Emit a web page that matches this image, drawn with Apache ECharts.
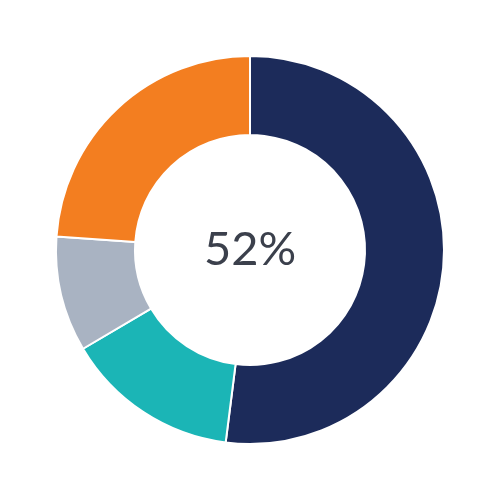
<!DOCTYPE html>
<html><head><meta charset="utf-8">
<script src="https://cdn.jsdelivr.net/npm/echarts@6/dist/echarts.min.js"></script>
<style>html,body{margin:0;padding:0;background:#fff}#c{width:500px;height:500px}</style>
</head><body><div id="c"></div>
<script>
const categories = ['A', 'B', 'C', 'D'];
const values = [52, 14.5, 9.6, 23.9];
const colors = ['#1c2b5a', '#1bb5b6', '#a9b3c2', '#f37e20'];
const centerLabel = '52%';

const chart = echarts.init(document.getElementById('c'), null, {renderer: 'canvas'});
chart.setOption({
  animation: false,
  backgroundColor: '#ffffff',
  title: {
    text: centerLabel,
    left: 'center', top: 'middle',
    textStyle: {fontFamily: 'Lato', fontWeight: 'normal', fontSize: 47, color: '#3b404c'}
  },
  series: [{
    type: 'pie',
    center: [250, 250],
    radius: [115, 194],
    startAngle: 90,
    clockwise: true,
    label: {show: false},
    labelLine: {show: false},
    itemStyle: {borderColor: '#ffffff', borderWidth: 2},
    emphasis: {disabled: true},
    data: categories.map((c, i) => ({name: c, value: values[i], itemStyle: {color: colors[i]}}))
  }]
});
</script></body></html>
